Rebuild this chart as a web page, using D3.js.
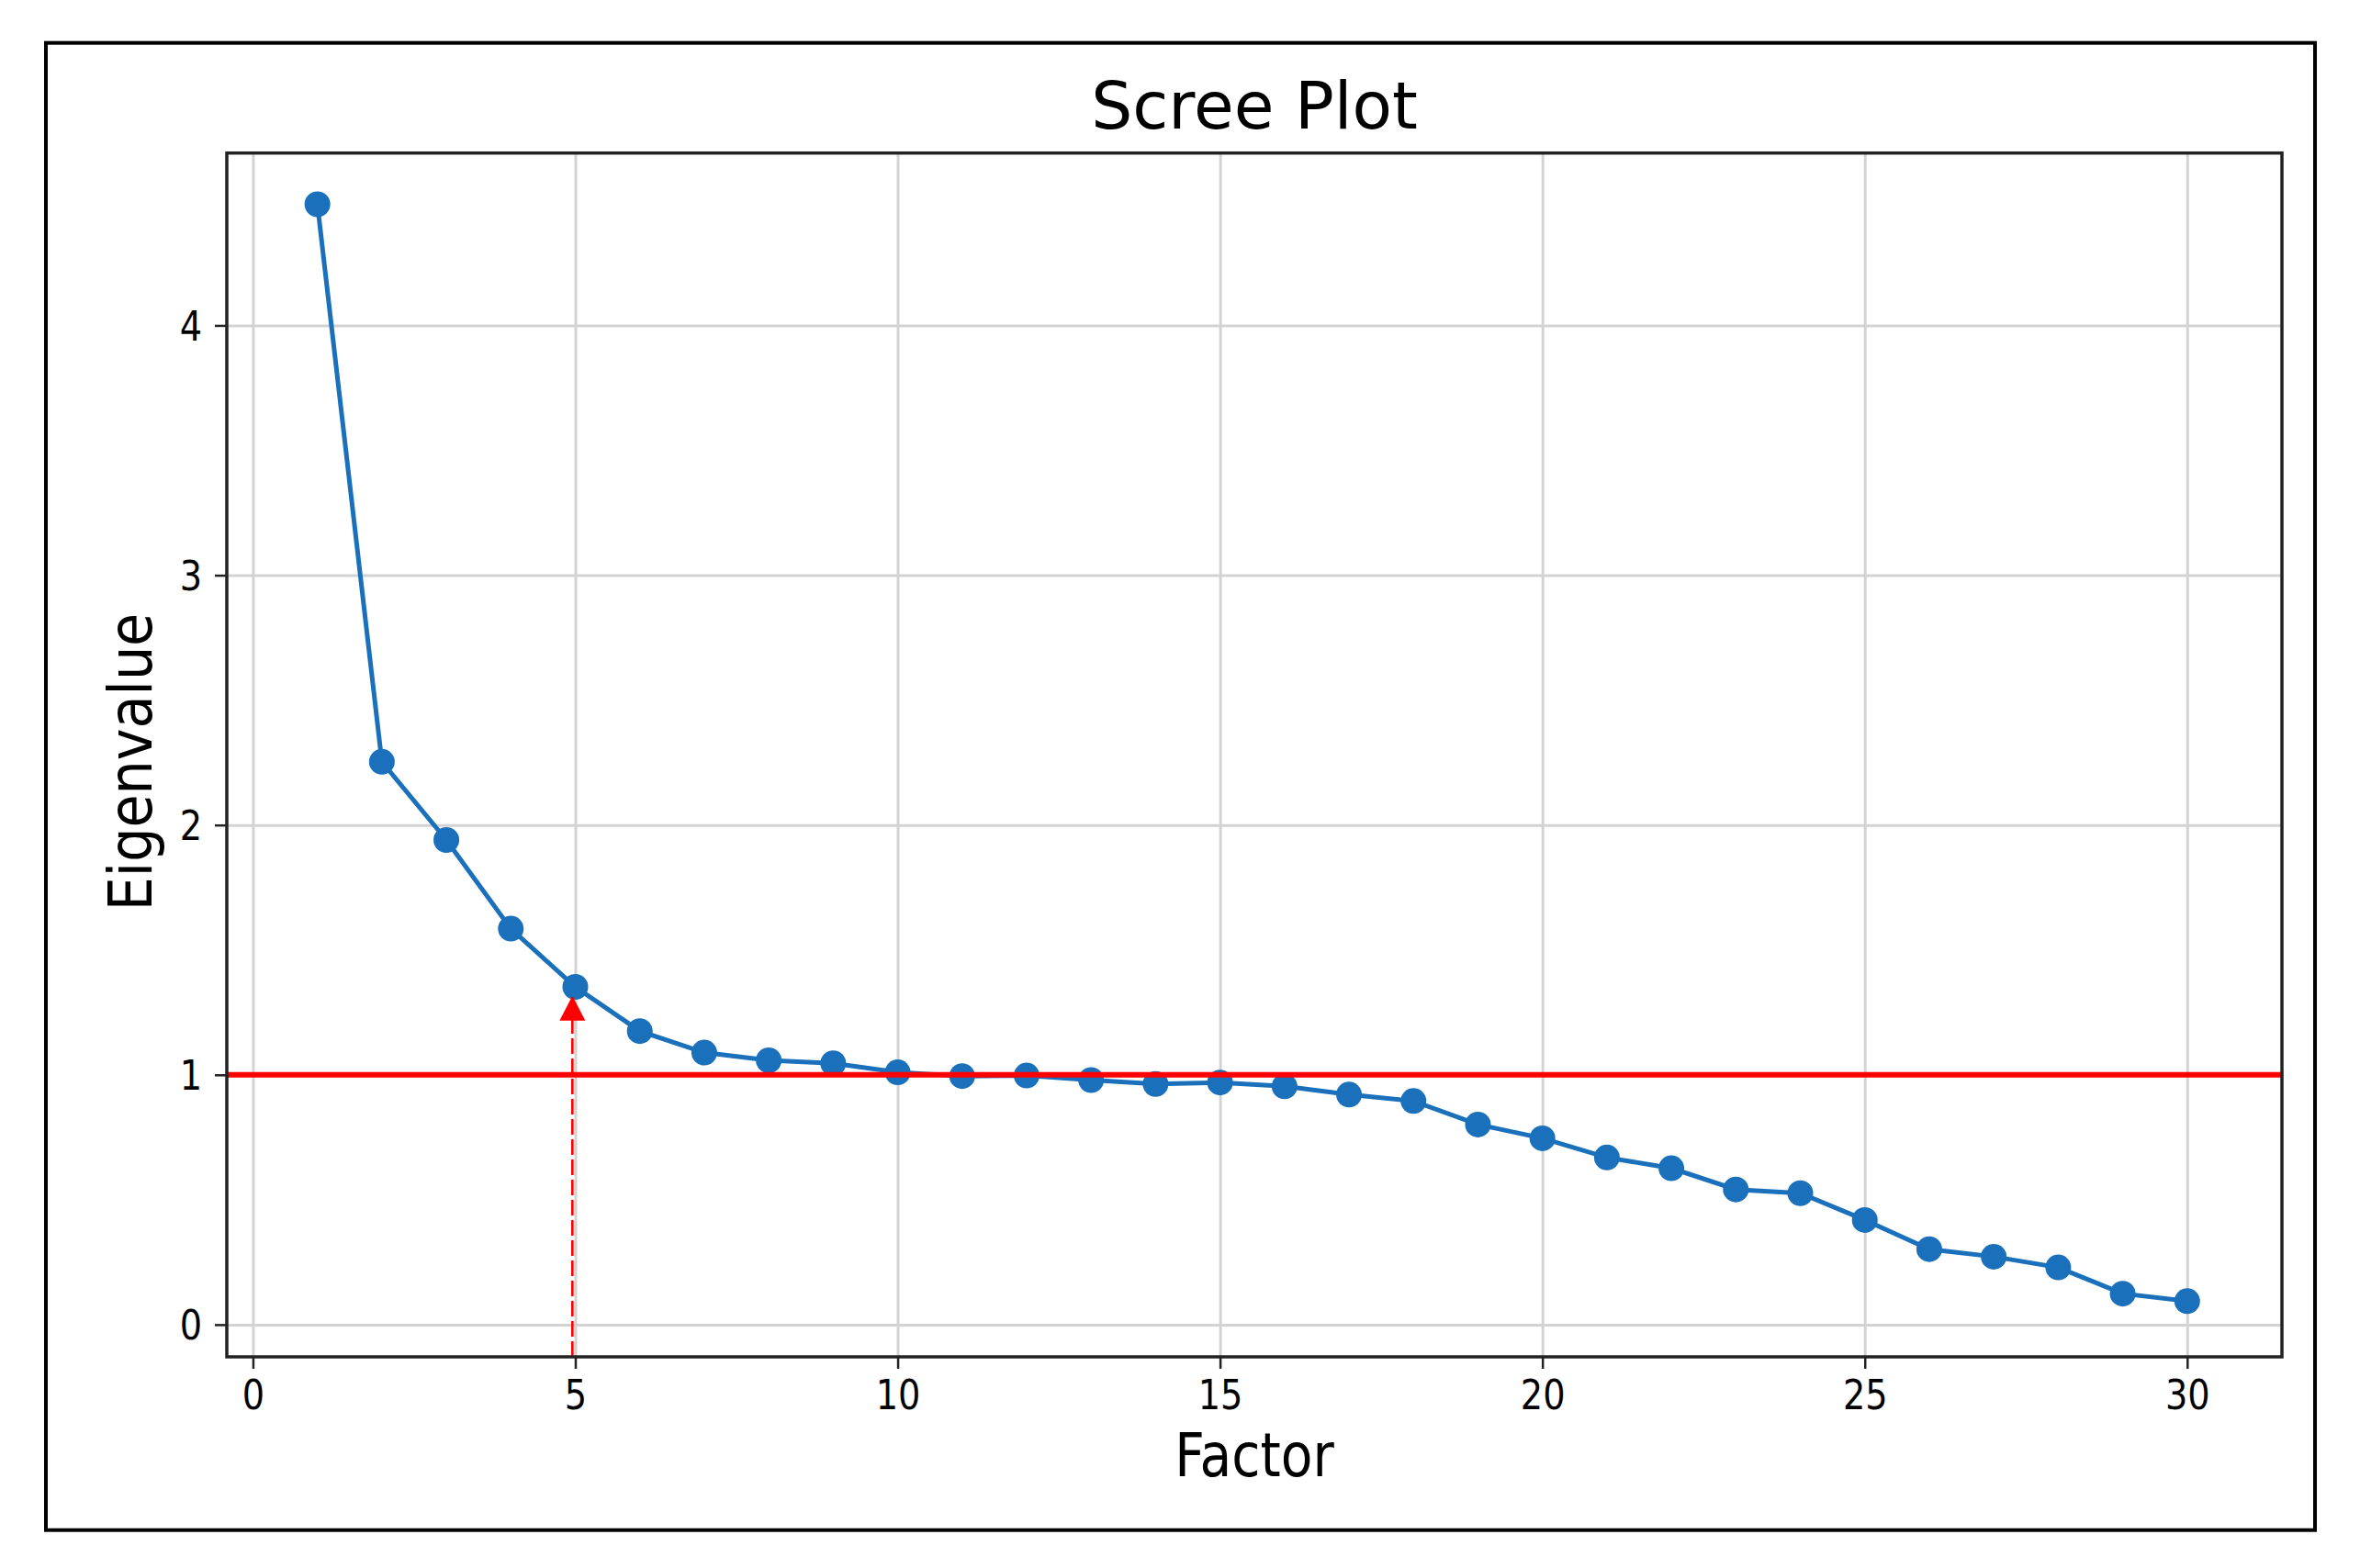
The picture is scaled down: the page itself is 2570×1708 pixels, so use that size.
<!DOCTYPE html>
<html>
<head>
<meta charset="utf-8">
<script src="https://cdn.jsdelivr.net/npm/d3@7"></script>
<style>
  body { margin: 0; background: #fff; }
  text { font-family: "DejaVu Sans", sans-serif; fill: #000; }
</style>
</head>
<body>
<div id="chart"></div>
<script>
// Scree plot data
var factors = [1, 2, 3, 4, 5, 6, 7, 8, 9, 10, 11, 12, 13, 14, 15,
               16, 17, 18, 19, 20, 21, 22, 23, 24, 25, 26, 27, 28, 29, 30];
var eigenvalues = [4.485, 2.253, 1.940, 1.585, 1.352, 1.175, 1.089, 1.058, 1.046, 1.010,
                   0.995, 0.997, 0.979, 0.963, 0.969, 0.954, 0.921, 0.895, 0.801, 0.746,
                   0.669, 0.626, 0.541, 0.526, 0.419, 0.302, 0.272, 0.229, 0.124, 0.094];
var xTicks = [0, 5, 10, 15, 20, 25, 30];
var yTicks = [0, 1, 2, 3, 4];
var threshold = 1;           // Kaiser criterion line
var arrowFactor = 4.955;     // dashed arrow pointing at the elbow
var arrowTip = 1.316;

var W = 2570, H = 1708;
var plot = {left: 247, top: 166.7, right: 2485, bottom: 1478};
var blue = '#1a70bb';

var svg = d3.select('#chart').append('svg')
    .attr('width', W).attr('height', H);

svg.append('rect').attr('width', W).attr('height', H).attr('fill', '#fff');

// outer frame
svg.append('rect')
    .attr('x', 50).attr('y', 46.7)
    .attr('width', 2471).attr('height', 1620)
    .attr('fill', 'none').attr('stroke', '#000').attr('stroke-width', 4);

var x = d3.scaleLinear().domain([-0.405, 31.47]).range([plot.left, plot.right]);
var y = d3.scaleLinear().domain([-0.129, 4.69]).range([plot.bottom, plot.top]);
var ph = plot.bottom - plot.top, pw = plot.right - plot.left;

// grid
var grid = svg.append('g');
grid.append('g')
    .attr('transform', 'translate(0,' + plot.bottom + ')')
    .call(d3.axisBottom(x).tickValues(xTicks).tickSize(-ph).tickFormat(''))
    .call(function(g) { g.select('.domain').remove(); });
grid.append('g')
    .attr('transform', 'translate(' + plot.left + ',0)')
    .call(d3.axisLeft(y).tickValues(yTicks).tickSize(-pw).tickFormat(''))
    .call(function(g) { g.select('.domain').remove(); });
grid.selectAll('line').attr('stroke', '#d3d3d3').attr('stroke-width', 3);

// scree line and markers
var line = d3.line()
    .x(function(d, i) { return x(factors[i]); })
    .y(function(d) { return y(d); });

svg.append('path')
    .datum(eigenvalues)
    .attr('d', line)
    .attr('fill', 'none')
    .attr('stroke', blue)
    .attr('stroke-width', 5);

svg.selectAll('circle.pt')
    .data(eigenvalues)
    .enter().append('circle')
    .attr('class', 'pt')
    .attr('cx', function(d, i) { return x(factors[i]); })
    .attr('cy', function(d) { return y(d); })
    .attr('r', 14)
    .attr('fill', blue);

// threshold line
svg.append('line')
    .attr('x1', plot.left).attr('x2', plot.right)
    .attr('y1', y(threshold)).attr('y2', y(threshold))
    .attr('stroke', '#ff0000').attr('stroke-width', 6);

// dashed arrow
var ax = x(arrowFactor), tipY = y(arrowTip);
svg.append('line')
    .attr('x1', ax).attr('x2', ax)
    .attr('y1', plot.bottom).attr('y2', tipY + 26)
    .attr('stroke', '#ff0000').attr('stroke-width', 2.6)
    .attr('stroke-dasharray', '17,5');
svg.append('path')
    .attr('d', 'M' + ax + ',' + tipY + 'L' + (ax + 14) + ',' + (tipY + 27) + 'L' + (ax - 14) + ',' + (tipY + 27) + 'Z')
    .attr('fill', '#ff0000');

// axes
var xAxis = svg.append('g')
    .attr('transform', 'translate(0,' + plot.bottom + ')')
    .call(d3.axisBottom(x).tickValues(xTicks).tickFormat(d3.format('d')).tickSize(13).tickSizeOuter(0));
xAxis.selectAll('.tick text')
    .attr('y', 57).attr('dy', null)
    .attr('transform', 'scale(0.87,1)');

var yAxis = svg.append('g')
    .attr('transform', 'translate(' + plot.left + ',0)')
    .call(d3.axisLeft(y).tickValues(yTicks).tickFormat(d3.format('d')).tickSize(13).tickSizeOuter(0));
yAxis.selectAll('.tick text')
    .attr('x', null).attr('dy', '0.36em')
    .attr('transform', 'translate(-27,0) scale(0.87,1)');

[xAxis, yAxis].forEach(function(g) {
  g.select('.domain').remove();
  g.selectAll('.tick line').attr('stroke', '#222').attr('stroke-width', 2.5);
  g.selectAll('.tick text')
      .style('font-family', '"DejaVu Sans", sans-serif')
      .style('font-size', '44px')
      .attr('fill', '#111');
});

// plot frame
svg.append('rect')
    .attr('x', plot.left).attr('y', plot.top)
    .attr('width', pw).attr('height', ph)
    .attr('fill', 'none').attr('stroke', '#222').attr('stroke-width', 3.5);

// titles
svg.append('text')
    .attr('x', (plot.left + plot.right) / 2).attr('y', 140)
    .attr('text-anchor', 'middle')
    .style('font-size', '71px')
    .text('Scree Plot');

svg.append('text')
    .attr('transform', 'translate(' + (plot.left + plot.right) / 2 + ',1608) scale(0.86,1)')
    .attr('text-anchor', 'middle')
    .style('font-size', '66px')
    .text('Factor');

svg.append('text')
    .attr('transform', 'translate(165,830) rotate(-90) scale(0.89,1)')
    .attr('text-anchor', 'middle')
    .style('font-size', '66px')
    .text('Eigenvalue');
</script>
</body>
</html>
